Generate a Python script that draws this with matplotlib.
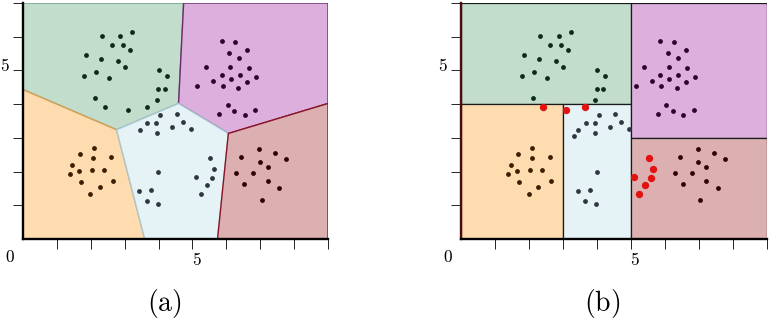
import matplotlib
matplotlib.use("Agg")
import matplotlib.pyplot as plt
from matplotlib.patches import Polygon, Rectangle

plt.rcParams['mathtext.fontset'] = 'cm'

# point clouds (data units), one cluster per class
green_x = [2.32, 2.87, 3.23, 2.62, 2.95, 3.16, 1.86, 2.29, 2.79, 3.00, 2.16,
           1.79, 2.54, 4.00, 4.24, 3.99, 4.19, 3.95, 2.12, 2.42, 3.09, 3.65]
green_y = [6.01, 6.02, 6.14, 5.74, 5.74, 5.60, 5.47, 5.35, 5.29, 5.11, 4.94,
           4.82, 4.77, 5.00, 4.83, 4.46, 4.46, 4.11, 4.19, 3.91, 3.82, 3.92]

purple_x = [5.86, 6.26, 6.08, 6.61, 6.38, 5.39, 6.11, 6.66, 5.86, 6.39, 6.13,
            6.88, 5.62, 6.62, 5.89, 6.35, 5.14, 6.04, 5.79, 6.24, 6.54, 6.86]
purple_y = [5.86, 5.85, 5.51, 5.62, 5.36, 5.11, 5.11, 5.07, 4.87, 4.86, 4.74,
            4.80, 4.68, 4.67, 4.53, 4.49, 4.53, 3.96, 3.71, 3.79, 3.67, 3.83]

orange_x = [2.09, 1.68, 2.61, 2.08, 1.46, 1.39, 1.66, 2.04, 2.38, 1.70, 2.65, 2.26, 1.99]
orange_y = [2.69, 2.52, 2.42, 2.40, 2.20, 1.94, 2.01, 2.04, 2.06, 1.70, 1.72, 1.53, 1.34]

blue_x = [4.05, 4.53, 3.67, 3.93, 4.71, 4.39, 4.95, 3.45, 3.95, 3.99,
          5.53, 5.65, 5.10, 5.58, 5.42, 5.24, 3.43, 3.79, 3.65, 3.98]
blue_y = [3.67, 3.71, 3.44, 3.45, 3.48, 3.32, 3.27, 3.24, 3.13, 1.99,
          2.40, 2.08, 1.85, 1.81, 1.60, 1.34, 1.43, 1.45, 1.14, 1.04]
# one extra point that only shows up in panel (b)
blue_b_only_x = [3.32]
blue_b_only_y = [3.06]

red_x = [6.96, 6.44, 7.43, 7.77, 6.98, 7.22, 6.29, 6.79, 6.52, 7.22, 7.56, 7.04]
red_y = [2.67, 2.43, 2.54, 2.37, 2.29, 2.13, 1.96, 1.96, 1.64, 1.72, 1.52, 1.16]

# Voronoi-like cells of panel (a)
green_cell = [(0, 4.43), (0, 7), (4.74, 7), (4.59, 4.02), (2.76, 3.24)]
purple_cell = [(4.74, 7), (9, 7), (9, 4.02), (6.06, 3.13), (4.59, 4.02)]
orange_cell = [(0, 0), (0, 4.43), (2.76, 3.24), (3.59, 0)]
blue_cell = [(2.76, 3.24), (4.59, 4.02), (6.06, 3.13), (5.74, 0), (3.59, 0)]
red_cell = [(6.06, 3.13), (9, 4.02), (9, 0), (5.74, 0)]

# axis-aligned splits of panel (b)
split_x1 = 3.0     # orange | blue
split_x2 = 5.0     # left | right
split_y_left = 4.0
split_y_right = 3.0

# fill, edge, dot colours
fills = {'green': '#c3ddcd', 'purple': '#dcafdc', 'orange': '#fedcb0',
         'blue': '#e5f2f6', 'red': '#dcb0b0'}
edges = {'green': '#6f9a82', 'purple': '#6e286e', 'orange': '#d7a050',
         'blue': '#aac8d2', 'red': '#8c1428'}
dots = {'green': '#0b2b1a', 'purple': '#32002d', 'orange': '#3c1e00',
        'blue': '#2d3741', 'red': '#320000'}

clusters = {'green': (green_x, green_y), 'purple': (purple_x, purple_y),
            'orange': (orange_x, orange_y), 'blue': (blue_x, blue_y),
            'red': (red_x, red_y)}
cells = [('green', green_cell), ('purple', purple_cell), ('orange', orange_cell),
         ('blue', blue_cell), ('red', red_cell)]

W, H = 771, 319
fig = plt.figure(figsize=(W / 100, H / 100), dpi=100)
ax_a = fig.add_axes([23 / W, 1 - 239 / H, 305 / W, 236 / H])
ax_b = fig.add_axes([461 / W, 1 - 239 / H, 306 / W, 236 / H])


def style(ax, left_color):
  ax.set_xlim(0, 9)
  ax.set_ylim(0, 7)
  ax.spines['top'].set_visible(False)
  ax.spines['right'].set_visible(False)
  ax.spines['left'].set_linewidth(1.7)
  ax.spines['left'].set_color(left_color)
  ax.spines['bottom'].set_linewidth(1.7)
  for s in ax.spines.values():
    s.set_zorder(5)
  ax.set_xticks(range(1, 10))
  ax.set_yticks(range(1, 8))
  ax.tick_params(direction='out', length=7.5, width=0.6, color='black',
                 labelbottom=False, labelleft=False)
  ax.annotate('$5$', xy=(5, 0), xytext=(3, -15), textcoords='offset points',
              ha='center', va='center', fontsize=12.5, annotation_clip=False)
  ax.annotate('$5$', xy=(0, 5), xytext=(-13, 3.5), textcoords='offset points',
              ha='center', va='center', fontsize=12.5, annotation_clip=False)
  ax.annotate('$0$', xy=(0, 0), xytext=(-9.5, -13), textcoords='offset points',
              ha='center', va='center', fontsize=12.5, annotation_clip=False)


# panel (a)
for name, verts in cells:
  ax_a.add_patch(Polygon(verts, closed=True, facecolor=fills[name],
                         edgecolor=edges[name], linewidth=1.0, zorder=1))
for name, (xs, ys) in clusters.items():
  ax_a.scatter(xs, ys, s=12, color=dots[name], linewidths=0, zorder=3)
style(ax_a, 'black')


# panel (b)
def rect_region(x, y):
  if x < split_x2:
    if y >= split_y_left:
      return 'green'
    return 'orange' if x < split_x1 else 'blue'
  return 'purple' if y >= split_y_right else 'red'


rects = [('green', 0, split_y_left, split_x2, 7 - split_y_left),
         ('orange', 0, 0, split_x1, split_y_left),
         ('blue', split_x1, 0, split_x2 - split_x1, split_y_left),
         ('purple', split_x2, split_y_right, 9 - split_x2, 7 - split_y_right),
         ('red', split_x2, 0, 9 - split_x2, split_y_right)]
for name, x0, y0, w, h in rects:
  ax_b.add_patch(Rectangle((x0, y0), w, h, facecolor=fills[name],
                           edgecolor='#1a1a1a', linewidth=0.9, zorder=1))

b_clusters = dict(clusters)
b_clusters['blue'] = (blue_x + blue_b_only_x, blue_y + blue_b_only_y)
for name, (xs, ys) in b_clusters.items():
  ok_x, ok_y, bad_x, bad_y = [], [], [], []
  for x, y in zip(xs, ys):
    if rect_region(x, y) == name:
      ok_x.append(x); ok_y.append(y)
    else:
      bad_x.append(x); bad_y.append(y)
  ax_b.scatter(ok_x, ok_y, s=12, color=dots[name], linewidths=0, zorder=3)
  ax_b.scatter(bad_x, bad_y, s=28, color='#e31212', linewidths=0, zorder=4)
style(ax_b, '#4a0c0c')

fig.text(164 / W, 1 - 303 / H, r'$\mathrm{(a)}$', ha='center', va='center', fontsize=20)
fig.text(602 / W, 1 - 303 / H, r'$\mathrm{(b)}$', ha='center', va='center', fontsize=20)

fig.savefig('out.png', dpi=100)
